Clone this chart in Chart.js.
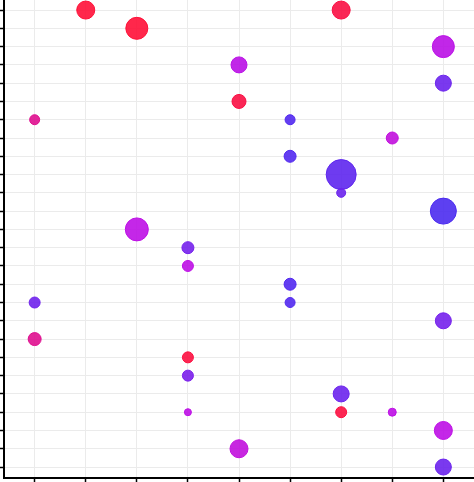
<!DOCTYPE html>
<html>
<head>
<meta charset="utf-8">
<script src="https://cdn.jsdelivr.net/npm/chart.js@4"></script>
<style>
  html, body { margin: 0; padding: 0; background: #fff; }
</style>
</head>
<body>
<canvas id="bubbleChart" width="474" height="482"></canvas>
<script>
// column index, row index, bubble radius and a 0..1 colour value (red -> blue)
const xs = [1, 2, 6, 8, 4, 8, 4, 0, 5, 7, 5, 6, 6, 8, 2, 3, 3, 5, 0, 5, 8, 0, 3, 3, 6, 3, 6, 7, 8, 4, 8];
const ys = [25, 24, 25, 23, 22, 21, 20, 19, 19, 18, 17, 16, 15, 14, 13, 12, 11, 10, 9, 9, 8, 7, 6, 5, 4, 3, 3, 3, 2, 1, 0];
const sizes = [9, 11, 9, 11, 8, 8, 7, 5, 5, 6, 6, 15, 4.5, 13, 11.5, 6, 5.5, 6, 5.5, 5, 8, 6.5, 5.5, 5.5, 8, 3.5, 5.5, 4, 9, 9, 8];
const heat = [0, 0, 0.03, 0.42, 0.42, 0.8, 0.03, 0.2, 0.92, 0.38, 0.92, 0.86, 0.8, 0.95, 0.4, 0.75, 0.4, 0.92, 0.78, 0.92, 0.75, 0.2, 0.02, 0.72, 0.8, 0.4, 0.02, 0.4, 0.4, 0.38, 0.8];

const stops = [
  [0, [255, 15, 55]],
  [0.4, [190, 15, 230]],
  [1, [65, 45, 240]],
];

function heatColor(t, alpha) {
  let i = 0;
  while (i < stops.length - 2 && t > stops[i + 1][0]) i++;
  const [t0, c0] = stops[i];
  const [t1, c1] = stops[i + 1];
  const f = (t - t0) / (t1 - t0);
  const c = c0.map((v, k) => Math.round(v + (c1[k] - v) * f));
  return `rgba(${c[0]}, ${c[1]}, ${c[2]}, ${alpha})`;
}

const points = xs.map((x, i) => ({ x: x, y: ys[i], r: sizes[i] }));

// one tick (and grid line) on every whole number inside the axis range
const wholeTicks = (scale) => {
  const ticks = [];
  for (let v = Math.ceil(scale.min); v <= Math.floor(scale.max); v++) {
    ticks.push({ value: v });
  }
  scale.ticks = ticks;
};

const ctx = document.getElementById('bubbleChart').getContext('2d');

new Chart(ctx, {
  type: 'bubble',
  data: {
    datasets: [
      {
        data: points,
        backgroundColor: heat.map((t) => heatColor(t, 0.9)),
        borderColor: heat.map((t) => heatColor(t, 1)),
        borderWidth: 1,
        hoverRadius: 0,
        clip: false,
      },
    ],
  },
  options: {
    responsive: false,
    animation: false,
    layout: { padding: 0, autoPadding: false },
    plugins: {
      legend: { display: false },
      tooltip: { enabled: false },
    },
    scales: {
      x: {
        type: 'linear',
        min: -0.6,
        max: 8.6,
        afterBuildTicks: wholeTicks,
        ticks: { display: false },
        grid: { color: '#ebebeb', tickColor: '#000', tickLength: 4, tickWidth: 1.5 },
        border: { color: '#000', width: 2 },
      },
      y: {
        type: 'linear',
        min: -0.6,
        max: 25.55,
        afterBuildTicks: wholeTicks,
        ticks: { display: false },
        grid: { color: '#ebebeb', tickColor: '#000', tickLength: 4, tickWidth: 1.5 },
        border: { color: '#000', width: 2 },
      },
    },
  },
});
</script>
</body>
</html>
